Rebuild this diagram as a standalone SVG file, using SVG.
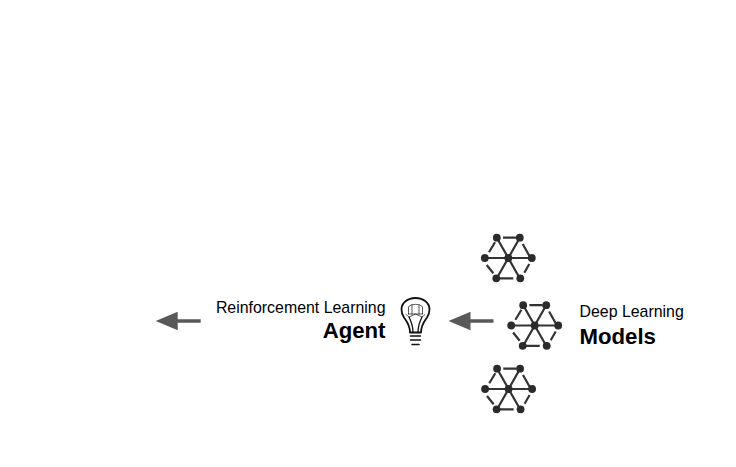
<svg xmlns="http://www.w3.org/2000/svg" width="736" height="467" viewBox="0 0 736 467">
<style>
.l{font-family:"Liberation Sans",Arial,sans-serif;fill:#000}
.s{font-size:15.9px}
.b{font-size:22.2px;font-weight:700}
.e{stroke:#333;stroke-width:2.2;fill:none}
.d{fill:#2b2b2b}
.ln{stroke:#111;fill:none;stroke-linecap:round;stroke-linejoin:round}
</style>
<defs>
<g id="net">
<path class="e" d="M-23.5 0H23.5M-11.5-20.3L11.5 20.3M11.5-20.3L-11.5 20.3M-5.3-20.3H8M14.4-14L21-2.3M21 6L16 14.7M-10 20.3H5M-21.6 7L-15 15.3M-19.3-5.7L-13.3-15.7"/>
<circle class="d" cx="0" cy="0" r="3.9"/>
<circle class="d" cx="-23.5" cy="0" r="3.9"/>
<circle class="d" cx="23.5" cy="0" r="3.9"/>
<circle class="d" cx="-11.5" cy="-20.3" r="3.9"/>
<circle class="d" cx="11.5" cy="-20.3" r="3.9"/>
<circle class="d" cx="-12" cy="20.3" r="3.9"/>
<circle class="d" cx="12" cy="20.3" r="3.9"/>
</g>
<g id="arrow"><path fill="#595959" d="M0 0L22-9.300V-1.800H45V1.800H22V9.300Z"/></g>
</defs>
<g id="connectors">
<use href="#arrow" x="155.700" y="321"/>
<use href="#arrow" x="448.500" y="321"/>
</g>
<g id="model-top"><use href="#net" x="508.300" y="258"/></g>
<g id="model-middle"><use href="#net" x="534.700" y="325.500"/></g>
<g id="model-bottom"><use href="#net" x="508.600" y="389"/></g>
<g id="agent">
<text class="l s" x="385.500" y="313" text-anchor="end">Reinforcement Learning</text>
<text class="l b" x="385.500" y="338" text-anchor="end">Agent</text>
<g id="bulb">
<path class="ln" stroke-width="1.800" d="M410 332.500C410 325 406.500 321 404 317.500C402 314.500 401.500 312 401.500 309.500C401.500 303 407.500 298 415.500 298C423.500 298 429.500 303 429.500 309.500C429.500 312 429 314.500 427 317.500C424.500 321 421 325 421 332.500Z"/>
<path class="ln" stroke-width="1.300" d="M413 332.500C413 326 411.500 322 409 317M418 332.500C418 326 419.500 322 422 317"/>
<path class="ln" stroke-width="0.700" d="M406 314.500L409 317L415.500 314L422 317L425 314.500M408.500 314V307C410 303.500 421 303.500 422.500 307V314M412 305V314M419 305V314M408.500 314H422.500"/>
<path class="ln" stroke-width="1.600" d="M410.500 336H420.500M410.500 340H420.500M412 344.500H419"/>
</g>
</g>
<g id="models-label">
<text class="l s" x="579.500" y="317">Deep Learning</text>
<text class="l b" x="579.500" y="344">Models</text>
</g>
</svg>
